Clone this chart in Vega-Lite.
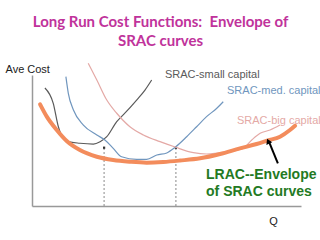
{
  "$schema": "https://vega.github.io/schema/vega-lite/v6.json",
  "width": 269,
  "height": 131,
  "autosize": {"type": "none"},
  "padding": {"left": 32, "top": 75, "right": 19, "bottom": 34},
  "background": "white",
  "title": {
    "text": ["Long Run Cost Functions:\u00a0 Envelope of", "SRAC curves"],
    "font": "Lato",
    "fontSize": 15,
    "fontWeight": "bold",
    "color": "#c0339b",
    "lineHeight": 19,
    "anchor": "middle",
    "frame": "group",
    "baseline": "bottom",
    "offset": -3,
    "dx": -6
  },
  "config": {"view": {"stroke": null}},
  "datasets": {
    "srac": [
      {"series": "small", "i": 1, "q": 4.8, "c": 90.1},
      {"series": "small", "i": 2, "q": 7.9, "c": 78.4},
      {"series": "small", "i": 3, "q": 9.8, "c": 60.5},
      {"series": "small", "i": 4, "q": 11.6, "c": 51.7},
      {"series": "small", "i": 5, "q": 13.5, "c": 49.1},
      {"series": "small", "i": 6, "q": 17.8, "c": 47.9},
      {"series": "small", "i": 7, "q": 22.8, "c": 47.3},
      {"series": "small", "i": 8, "q": 25.3, "c": 49.1},
      {"series": "small", "i": 9, "q": 27.8, "c": 52.9},
      {"series": "small", "i": 10, "q": 31.5, "c": 64.4},
      {"series": "small", "i": 11, "q": 33.9, "c": 69.5},
      {"series": "small", "i": 12, "q": 38.9, "c": 80.9},
      {"series": "small", "i": 13, "q": 42.0, "c": 88.5},
      {"series": "small", "i": 14, "q": 44.5, "c": 96.2},
      {"series": "med", "i": 1, "q": 12.6, "c": 98.7},
      {"series": "med", "i": 2, "q": 13.5, "c": 86.0},
      {"series": "med", "i": 3, "q": 15.4, "c": 73.3},
      {"series": "med", "i": 4, "q": 19.1, "c": 61.8},
      {"series": "med", "i": 5, "q": 24.1, "c": 54.2},
      {"series": "med", "i": 6, "q": 27.1, "c": 50.4},
      {"series": "med", "i": 7, "q": 30.2, "c": 44.0},
      {"series": "med", "i": 8, "q": 33.3, "c": 37.6},
      {"series": "med", "i": 9, "q": 38.9, "c": 35.6},
      {"series": "med", "i": 10, "q": 42.6, "c": 35.6},
      {"series": "med", "i": 11, "q": 46.4, "c": 38.9},
      {"series": "med", "i": 12, "q": 50.1, "c": 40.5},
      {"series": "med", "i": 13, "q": 53.2, "c": 44.8},
      {"series": "med", "i": 14, "q": 57.5, "c": 52.9},
      {"series": "med", "i": 15, "q": 61.2, "c": 60.5},
      {"series": "med", "i": 16, "q": 64.9, "c": 68.2},
      {"series": "med", "i": 17, "q": 68.7, "c": 74.6},
      {"series": "med", "i": 18, "q": 71.1, "c": 79.6},
      {"series": "big", "i": 1, "q": 20.9, "c": 108.9},
      {"series": "big", "i": 2, "q": 24.1, "c": 96.2},
      {"series": "big", "i": 3, "q": 27.8, "c": 80.9},
      {"series": "big", "i": 4, "q": 31.5, "c": 70.8},
      {"series": "big", "i": 5, "q": 36.4, "c": 60.5},
      {"series": "big", "i": 6, "q": 41.4, "c": 54.2},
      {"series": "big", "i": 7, "q": 47.6, "c": 49.1},
      {"series": "big", "i": 8, "q": 53.2, "c": 45.0},
      {"series": "big", "i": 9, "q": 60.0, "c": 40.7},
      {"series": "big", "i": 10, "q": 64.9, "c": 39.7},
      {"series": "big", "i": 11, "q": 72.4, "c": 41.4},
      {"series": "big", "i": 12, "q": 78.5, "c": 44.0},
      {"series": "big", "i": 13, "q": 81.7, "c": 50.4},
      {"series": "big", "i": 14, "q": 84.8, "c": 55.5},
      {"series": "big", "i": 15, "q": 88.5, "c": 58.0},
      {"series": "big", "i": 16, "q": 92.2, "c": 61.8}
    ],
    "lrac": [
      {"i": 1, "q": 3.0, "c": 77.6},
      {"i": 2, "q": 5.5, "c": 68.2},
      {"i": 3, "q": 9.2, "c": 58.0},
      {"i": 4, "q": 12.9, "c": 49.6},
      {"i": 5, "q": 17.8, "c": 42.7},
      {"i": 6, "q": 24.1, "c": 37.6},
      {"i": 7, "q": 30.2, "c": 35.1},
      {"i": 8, "q": 36.4, "c": 33.8},
      {"i": 9, "q": 42.6, "c": 33.1},
      {"i": 10, "q": 48.8, "c": 33.6},
      {"i": 11, "q": 55.0, "c": 34.7},
      {"i": 12, "q": 62.5, "c": 36.4},
      {"i": 13, "q": 69.9, "c": 39.7},
      {"i": 14, "q": 77.3, "c": 44.0},
      {"i": 15, "q": 83.5, "c": 47.3},
      {"i": 16, "q": 87.7, "c": 50.0},
      {"i": 17, "q": 92.2, "c": 52.9},
      {"i": 18, "q": 95.9, "c": 58.0},
      {"i": 19, "q": 97.8, "c": 61.3}
    ],
    "guides": [
      {"q": 26.8, "c0": 0, "c": 44.5},
      {"q": 53.5, "c0": 0, "c": 44.5}
    ],
    "arrow": [
      {"q": 91.4, "c": 32.6, "q2": 88.2, "c2": 48.5}
    ],
    "arrowhead": [
      {"q": 87.8, "c": 49.5}
    ],
    "labels": [
      {"text": "SRAC-small capital", "q": 49.4, "c": 100.0, "kind": "small"},
      {"text": "SRAC-med. capital", "q": 72.5, "c": 88.0, "kind": "med"},
      {"text": "SRAC-big capital", "q": 76.2, "c": 65.1, "kind": "big"}
    ],
    "notes": [
      {"text": "LRAC--Envelope", "q": 64.7, "c": 23.7},
      {"text": "of SRAC curves", "q": 64.7, "c": 10.9}
    ]
  },
  "layer": [
    {
      "data": {"name": "guides"},
      "mark": {"type": "rule", "color": "#8a8a8a", "strokeWidth": 1, "strokeDash": [2, 2]},
      "encoding": {
        "x": {"field": "q", "type": "quantitative", "scale": {"domain": [0, 100], "nice": false, "zero": false},
          "axis": {"title": "Q", "domain": true, "domainColor": "#999999", "domainWidth": 1.5, "ticks": false, "labels": false, "grid": false,
            "titleFont": "Liberation Sans", "titleFontSize": 11, "titleFontWeight": "normal", "titleColor": "#222222",
            "titleX": 241, "titleY": 15, "titleAlign": "center", "titleBaseline": "middle"}},
        "y": {"field": "c0", "type": "quantitative", "scale": {"domain": [0, 100], "nice": false, "zero": false},
          "axis": {"title": "Ave Cost", "domain": true, "domainColor": "#999999", "domainWidth": 1.5, "ticks": false, "labels": false, "grid": false,
            "titleFont": "Liberation Sans", "titleFontSize": 11, "titleFontWeight": "normal", "titleColor": "#222222",
            "titleAngle": 0, "titleX": -27, "titleY": -6, "titleAlign": "left", "titleBaseline": "middle"}},
        "y2": {"field": "c"}
      }
    },
    {
      "data": {"name": "guides"},
      "mark": {"type": "point", "shape": "square", "filled": true, "color": "#333333", "size": 5, "opacity": 1},
      "encoding": {
        "x": {"field": "q", "type": "quantitative"},
        "y": {"field": "c", "type": "quantitative"}
      }
    },
    {
      "data": {"name": "srac"},
      "mark": {"type": "line", "interpolate": "monotone", "strokeWidth": 1.2, "clip": false},
      "encoding": {
        "x": {"field": "q", "type": "quantitative"},
        "y": {"field": "c", "type": "quantitative"},
        "order": {"field": "i", "type": "quantitative"},
        "color": {"field": "series", "type": "nominal", "legend": null,
          "scale": {"domain": ["small", "med", "big"], "range": ["#5a5a5a", "#7096be", "#e4a9a6"]}}
      }
    },
    {
      "data": {"name": "lrac"},
      "mark": {"type": "line", "interpolate": "monotone", "strokeWidth": 4, "color": "#f38c5c", "strokeCap": "round"},
      "encoding": {
        "x": {"field": "q", "type": "quantitative"},
        "y": {"field": "c", "type": "quantitative"},
        "order": {"field": "i", "type": "quantitative"}
      }
    },
    {
      "data": {"name": "arrow"},
      "mark": {"type": "rule", "color": "#000000", "strokeWidth": 2},
      "encoding": {
        "x": {"field": "q", "type": "quantitative"},
        "y": {"field": "c", "type": "quantitative"},
        "x2": {"field": "q2"},
        "y2": {"field": "c2"}
      }
    },
    {
      "data": {"name": "arrowhead"},
      "mark": {"type": "point", "shape": "triangle-up", "filled": true, "color": "#000000", "size": 40, "angle": 336, "opacity": 1},
      "encoding": {
        "x": {"field": "q", "type": "quantitative"},
        "y": {"field": "c", "type": "quantitative"}
      }
    },
    {
      "data": {"name": "labels"},
      "mark": {"type": "text", "align": "left", "baseline": "middle", "font": "Liberation Sans", "fontSize": 11},
      "encoding": {
        "x": {"field": "q", "type": "quantitative"},
        "y": {"field": "c", "type": "quantitative"},
        "text": {"field": "text"},
        "color": {"field": "kind", "type": "nominal", "legend": null,
          "scale": {"domain": ["small", "med", "big"], "range": ["#222222", "#4a78a8", "#d8807a"]}}
      }
    },
    {
      "data": {"name": "notes"},
      "mark": {"type": "text", "align": "left", "baseline": "middle", "font": "Liberation Sans", "fontSize": 14, "fontWeight": "bold", "color": "#237a23"},
      "encoding": {
        "x": {"field": "q", "type": "quantitative"},
        "y": {"field": "c", "type": "quantitative"},
        "text": {"field": "text"}
      }
    }
  ]
}
